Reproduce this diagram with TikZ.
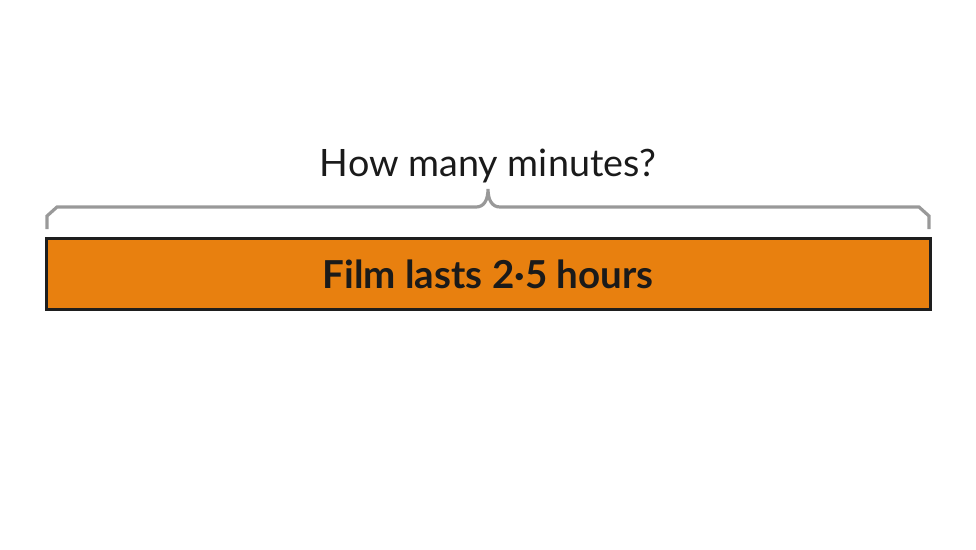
\documentclass[tikz,border=0pt]{standalone}
\usepackage{fontspec}
\setmainfont{Lato}
\definecolor{barorange}{HTML}{E8800F}
\definecolor{barline}{HTML}{1E1E1E}
\definecolor{bracegray}{HTML}{999999}
\definecolor{txt}{HTML}{1A1A1A}
\tikzset{
  barbox/.style={draw=barline, line width=3pt, fill=barorange, minimum width=884pt, minimum height=71pt, inner sep=0pt},
  bartext/.style={text=txt, font=\fontsize{38.5}{44}\selectfont\bfseries, inner sep=0pt, anchor=base},
  label/.style={text=txt, font=\fontsize{37.7}{44}\selectfont, inner sep=0pt, anchor=base},
  bracestyle/.style={draw=bracegray, line width=3.2pt, line join=miter}
}
\begin{document}
\begin{tikzpicture}[x=1pt,y=-1pt]
\useasboundingbox (0,0) rectangle (976,549);
\node[barbox] (bar) at (488,273.5) {};
\node[bartext] (bt) at (488,288) {Film lasts 2·5 hours};
\node[label] (q) at (488,176) {How many minutes?};
\coordinate (bl) at (47,229);
\coordinate (bl2) at (47,216);
\coordinate (bl3) at (57,207);
\coordinate (tipl) at (476,207);
\coordinate (tip) at (488,189);
\coordinate (tipr) at (500,207);
\coordinate (br3) at (919,207);
\coordinate (br2) at (929,216);
\coordinate (br) at (929,229);
\draw[bracestyle] (bl) -- (bl2) -- (bl3) -- (tipl) .. controls (484,207) and (488,200) .. (tip) .. controls (488,200) and (492,207) .. (tipr) -- (br3) -- (br2) -- (br);
\end{tikzpicture}
\end{document}
